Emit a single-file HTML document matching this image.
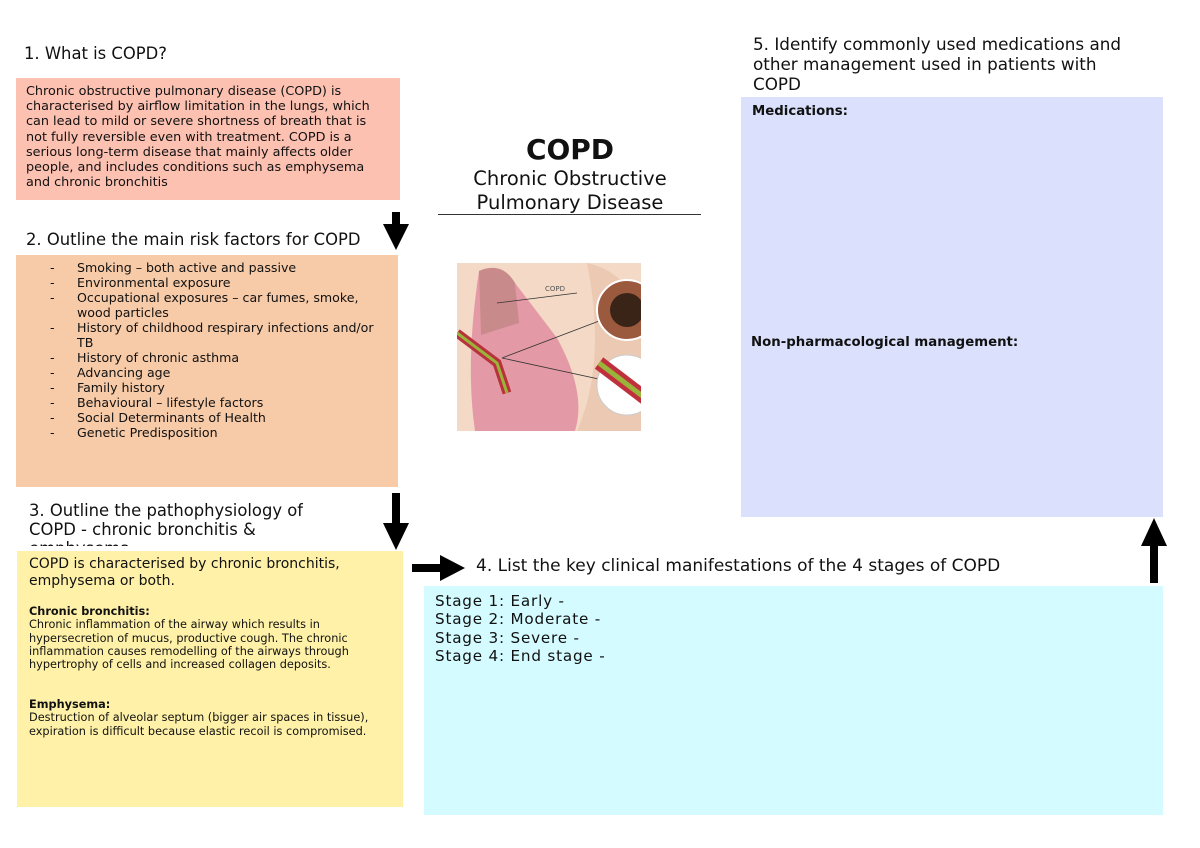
<!DOCTYPE html>
<html><head><meta charset="utf-8"><style>
*{margin:0;padding:0;box-sizing:border-box}
body{width:1200px;height:848px;background:#fff;position:relative;overflow:hidden;font-family:"DejaVu Sans","Liberation Sans",sans-serif;color:#111}
.a{position:absolute;white-space:nowrap}
.box{position:absolute}
.h{font-size:16.4px;line-height:20px}
.s{font-size:12.4px;line-height:15px}
ul{list-style:none}
li{position:relative;padding-left:60px}
li:before{content:"-";position:absolute;left:33px}
</style></head><body>
<div class="a h" style="left:24px;top:44px">1. What is COPD?</div>
<div class="box" style="left:16px;top:78px;width:384px;height:122px;background:#fdc1b2"></div>
<div class="a s" style="left:26px;top:84px;font-size:12.8px;line-height:15.2px">Chronic obstructive pulmonary disease (COPD) is<br>characterised by airflow limitation in the lungs, which<br>can lead to mild or severe shortness of breath that is<br>not fully reversible even with treatment. COPD is a<br>serious long-term disease that mainly affects older<br>people, and includes conditions such as emphysema<br>and chronic bronchitis</div>

<div class="a h" style="left:26px;top:230px">2. Outline the main risk factors for COPD</div>
<div class="box" style="left:16px;top:255px;width:382px;height:232px;background:#f8cba8"></div>
<ul class="a s" style="left:17px;top:260px;font-size:12.6px;line-height:15px">
<li>Smoking – both active and passive</li>
<li>Environmental exposure</li>
<li>Occupational exposures – car fumes, smoke,<br>wood particles</li>
<li>History of childhood respirary infections and/or<br>TB</li>
<li>History of chronic asthma</li>
<li>Advancing age</li>
<li>Family history</li>
<li>Behavioural – lifestyle factors</li>
<li>Social Determinants of Health</li>
<li>Genetic Predisposition</li>
</ul>

<div class="a h" style="left:29px;top:501px;line-height:19px;height:45px;overflow:hidden">3. Outline the pathophysiology of<br>COPD - chronic bronchitis &amp;<br>emphysema</div>
<div class="box" style="left:17px;top:551px;width:386px;height:256px;background:#fff2a8"></div>
<div class="a" style="left:29px;top:556px;font-size:14px;line-height:17px">COPD is characterised by chronic bronchitis,<br>emphysema or both.</div>
<div class="a" style="left:29px;top:605px;font-size:11.3px;line-height:13.3px"><b>Chronic bronchitis:</b><br>Chronic inflammation of the airway which results in<br>hypersecretion of mucus, productive cough. The chronic<br>inflammation causes remodelling of the airways through<br>hypertrophy of cells and increased collagen deposits.</div>
<div class="a" style="left:29px;top:698px;font-size:11.3px;line-height:13.3px"><b>Emphysema:</b><br>Destruction of alveolar septum (bigger air spaces in tissue),<br>expiration is difficult because elastic recoil is compromised.</div>

<div class="a" style="left:438px;top:133px;width:264px;text-align:center;font-weight:bold;font-size:28px;line-height:34px">COPD</div>
<div class="a" style="left:438px;top:167px;width:264px;text-align:center;font-size:19.5px;line-height:23.5px">Chronic Obstructive<br>Pulmonary Disease</div>
<div class="box" style="left:438px;top:214px;width:263px;height:1px;background:#333"></div>

<svg class="box" style="left:457px;top:263px" width="184" height="168" viewBox="0 0 184 168">
<rect width="184" height="168" fill="#f3d9c6"/>
<path d="M130 0 Q175 10 184 60 L184 168 L120 168 Q150 100 130 0Z" fill="#ecc9b2"/>
<path d="M22 8 Q45 -2 58 20 L100 75 Q130 130 118 168 L18 168 Q8 100 22 8Z" fill="#e49aa6"/>
<path d="M22 8 Q45 -2 58 20 L62 60 L24 72Z" fill="#c98a8c"/>
<path d="M0 70 L40 100 L50 130" stroke="#b8323c" stroke-width="9" fill="none"/>
<path d="M0 70 L40 100 L50 130" stroke="#9ab33a" stroke-width="3" fill="none"/>
<path d="M40 40 L120 30 M45 95 L150 55 M45 95 L160 120" stroke="#333" stroke-width="0.8"/>
<circle cx="170" cy="47" r="30" fill="#9b5a3e" stroke="#fff" stroke-width="2"/>
<circle cx="170" cy="47" r="17" fill="#3a2418"/>
<circle cx="170" cy="122" r="30" fill="#fff" stroke="#ccc"/>
<path d="M142 100 L192 138" stroke="#c0303c" stroke-width="14"/>
<path d="M142 100 L192 138" stroke="#9ab33a" stroke-width="5"/>
<text x="88" y="28" font-size="7" fill="#555" font-family="DejaVu Sans">COPD</text>
</svg>

<div class="a" style="left:753px;top:34px;font-size:16.8px;line-height:20px">5. Identify commonly used medications and<br>other management used in patients with<br>COPD</div>
<div class="box" style="left:741px;top:97px;width:422px;height:420px;background:#dbe1fd"></div>
<div class="a" style="left:752px;top:103px;font-size:13.3px;line-height:17px;font-weight:bold">Medications:</div>
<div class="a" style="left:751px;top:334px;font-size:13.3px;line-height:17px;font-weight:bold">Non-pharmacological management:</div>

<div class="a" style="left:476px;top:556px;font-size:17px;line-height:20px">4. List the key clinical manifestations of the 4 stages of COPD</div>
<div class="box" style="left:424px;top:586px;width:739px;height:229px;background:#d4fbff"></div>
<div class="a" style="left:435px;top:592px;font-size:15.2px;line-height:18.3px;letter-spacing:0.8px">Stage 1: Early -<br>Stage 2: Moderate -<br>Stage 3: Severe -<br>Stage 4: End stage -</div>

<svg class="box" style="left:0;top:0" width="1200" height="848">
<path d="M392 212 h8 v12 h9 l-13 26 l-13 -26 h9z" fill="#000"/>
<path d="M392 493 h8 v30 h9 l-13 27 l-13 -27 h9z" fill="#000"/>
<path d="M412 564 h28 v-9 l25 13 l-25 13 v-9 h-28z" fill="#000"/>
<path d="M1150 583 v-37 h-9 l13 -28 l13 28 h-9 v37z" fill="#000"/>
</svg>
</body></html>
